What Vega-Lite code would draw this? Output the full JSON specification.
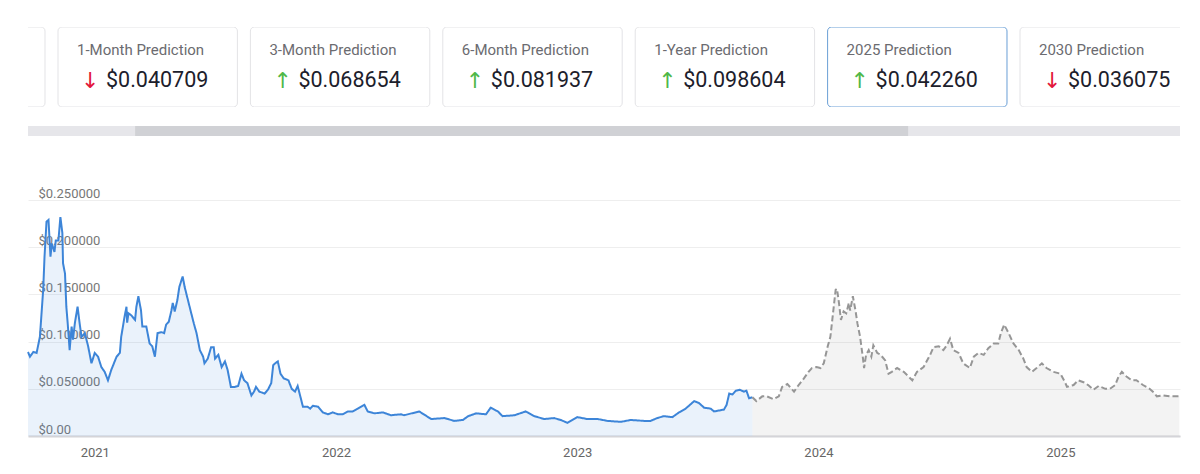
{
  "$schema": "https://vega.github.io/schema/vega-lite/v6.json",
  "background": "white",
  "padding": {"top": 27, "left": 24, "right": 20, "bottom": 0},
  "spacing": 19,
  "bounds": "flush",
  "resolve": {"scale": {"color": "independent", "x": "independent", "y": "independent"}},
  "config": {"view": {"stroke": null}, "font": "Roboto"},
  "vconcat": [
    {
      "width": 1152,
      "height": 80,
      "data": {
        "values": [
          {"card": "c0", "title": "", "value": "", "arrow": "", "dir": "up", "active": false},
          {"card": "c1", "title": "1-Month Prediction", "value": "$0.040709", "arrow": "↓", "dir": "down", "active": false},
          {"card": "c2", "title": "3-Month Prediction", "value": "$0.068654", "arrow": "↑", "dir": "up", "active": false},
          {"card": "c3", "title": "6-Month Prediction", "value": "$0.081937", "arrow": "↑", "dir": "up", "active": false},
          {"card": "c4", "title": "1-Year Prediction", "value": "$0.098604", "arrow": "↑", "dir": "up", "active": false},
          {"card": "c5", "title": "2025 Prediction", "value": "$0.042260", "arrow": "↑", "dir": "up", "active": true},
          {"card": "c6", "title": "2030 Prediction", "value": "$0.036075", "arrow": "↓", "dir": "down", "active": false}
        ]
      },
      "layer": [
        {
          "mark": {"type": "rect", "clip": true, "fill": "white", "cornerRadius": 4, "strokeWidth": 1},
          "encoding": {
            "x": {"field": "card", "type": "nominal", "sort": null, "axis": null,
                  "scale": {"range": [-162.4, 1171.4], "paddingInner": 0.0676, "paddingOuter": 0}},
            "stroke": {"condition": {"test": "datum.active", "value": "#6a9fd6"}, "value": "#e3e3e6"}
          }
        },
        {
          "mark": {"type": "text", "clip": true, "align": "left", "dx": 19, "dy": -17, "fontSize": 15, "color": "#6b6b70"},
          "encoding": {
            "x": {"field": "card", "type": "nominal", "sort": null, "axis": null, "bandPosition": 0},
            "text": {"field": "title"}
          }
        },
        {
          "mark": {"type": "text", "clip": true, "align": "left", "dx": 23, "dy": 14, "fontSize": 22, "font": "DejaVu Sans"},
          "encoding": {
            "x": {"field": "card", "type": "nominal", "sort": null, "axis": null, "bandPosition": 0},
            "text": {"field": "arrow"},
            "color": {"field": "dir", "type": "nominal", "legend": null,
                      "scale": {"domain": ["down", "up"], "range": ["#e3173c", "#4fb848"]}}
          }
        },
        {
          "mark": {"type": "text", "clip": true, "align": "left", "dx": 48, "dy": 14, "fontSize": 21.5, "color": "#1c202b"},
          "encoding": {
            "x": {"field": "card", "type": "nominal", "sort": null, "axis": null, "bandPosition": 0},
            "text": {"field": "value"}
          }
        }
      ]
    },
    {
      "width": 1152,
      "height": 10,
      "data": {
        "values": [
          {"part": "track", "from": 0, "to": 1},
          {"part": "thumb", "from": 0.093, "to": 0.764}
        ]
      },
      "mark": {"type": "rect"},
      "encoding": {
        "x": {"field": "from", "type": "quantitative", "axis": null,
              "scale": {"domain": [0, 1]}},
        "x2": {"field": "to"},
        "color": {"field": "part", "type": "nominal", "legend": null,
                  "scale": {"domain": ["track", "thumb"], "range": ["#e6e6ea", "#d0d1d5"]}}
      }
    },
    {
      "width": 1152,
      "height": 281,
      "data": {
        "values": [
          {"date": "2020-09-22", "price": 0.089, "series": "history"},
          {"date": "2020-09-25", "price": 0.084, "series": "history"},
          {"date": "2020-09-30", "price": 0.089, "series": "history"},
          {"date": "2020-10-05", "price": 0.088, "series": "history"},
          {"date": "2020-10-10", "price": 0.105, "series": "history"},
          {"date": "2020-10-15", "price": 0.155, "series": "history"},
          {"date": "2020-10-17", "price": 0.19, "series": "history"},
          {"date": "2020-10-20", "price": 0.227, "series": "history"},
          {"date": "2020-10-23", "price": 0.229, "series": "history"},
          {"date": "2020-10-26", "price": 0.19, "series": "history"},
          {"date": "2020-10-28", "price": 0.204, "series": "history"},
          {"date": "2020-11-01", "price": 0.195, "series": "history"},
          {"date": "2020-11-03", "price": 0.207, "series": "history"},
          {"date": "2020-11-07", "price": 0.207, "series": "history"},
          {"date": "2020-11-10", "price": 0.232, "series": "history"},
          {"date": "2020-11-13", "price": 0.215, "series": "history"},
          {"date": "2020-11-14", "price": 0.183, "series": "history"},
          {"date": "2020-11-17", "price": 0.172, "series": "history"},
          {"date": "2020-11-19", "price": 0.137, "series": "history"},
          {"date": "2020-11-21", "price": 0.12, "series": "history"},
          {"date": "2020-11-24", "price": 0.091, "series": "history"},
          {"date": "2020-11-27", "price": 0.116, "series": "history"},
          {"date": "2020-11-29", "price": 0.102, "series": "history"},
          {"date": "2020-12-02", "price": 0.12, "series": "history"},
          {"date": "2020-12-06", "price": 0.137, "series": "history"},
          {"date": "2020-12-09", "price": 0.12, "series": "history"},
          {"date": "2020-12-12", "price": 0.105, "series": "history"},
          {"date": "2020-12-17", "price": 0.109, "series": "history"},
          {"date": "2020-12-22", "price": 0.095, "series": "history"},
          {"date": "2020-12-27", "price": 0.077, "series": "history"},
          {"date": "2021-01-01", "price": 0.088, "series": "history"},
          {"date": "2021-01-06", "price": 0.084, "series": "history"},
          {"date": "2021-01-11", "price": 0.073, "series": "history"},
          {"date": "2021-01-16", "price": 0.068, "series": "history"},
          {"date": "2021-01-21", "price": 0.059, "series": "history"},
          {"date": "2021-01-26", "price": 0.07, "series": "history"},
          {"date": "2021-02-03", "price": 0.084, "series": "history"},
          {"date": "2021-02-08", "price": 0.088, "series": "history"},
          {"date": "2021-02-10", "price": 0.105, "series": "history"},
          {"date": "2021-02-15", "price": 0.126, "series": "history"},
          {"date": "2021-02-18", "price": 0.137, "series": "history"},
          {"date": "2021-02-19", "price": 0.12, "series": "history"},
          {"date": "2021-02-21", "price": 0.13, "series": "history"},
          {"date": "2021-02-25", "price": 0.128, "series": "history"},
          {"date": "2021-03-03", "price": 0.123, "series": "history"},
          {"date": "2021-03-05", "price": 0.137, "series": "history"},
          {"date": "2021-03-08", "price": 0.148, "series": "history"},
          {"date": "2021-03-12", "price": 0.133, "series": "history"},
          {"date": "2021-03-14", "price": 0.116, "series": "history"},
          {"date": "2021-03-20", "price": 0.116, "series": "history"},
          {"date": "2021-03-25", "price": 0.098, "series": "history"},
          {"date": "2021-03-29", "price": 0.095, "series": "history"},
          {"date": "2021-04-02", "price": 0.084, "series": "history"},
          {"date": "2021-04-06", "price": 0.109, "series": "history"},
          {"date": "2021-04-12", "price": 0.11, "series": "history"},
          {"date": "2021-04-16", "price": 0.109, "series": "history"},
          {"date": "2021-04-19", "price": 0.118, "series": "history"},
          {"date": "2021-04-23", "price": 0.121, "series": "history"},
          {"date": "2021-04-27", "price": 0.133, "series": "history"},
          {"date": "2021-04-29", "price": 0.141, "series": "history"},
          {"date": "2021-05-02", "price": 0.132, "series": "history"},
          {"date": "2021-05-06", "price": 0.144, "series": "history"},
          {"date": "2021-05-09", "price": 0.158, "series": "history"},
          {"date": "2021-05-14", "price": 0.169, "series": "history"},
          {"date": "2021-05-17", "price": 0.158, "series": "history"},
          {"date": "2021-05-22", "price": 0.144, "series": "history"},
          {"date": "2021-05-27", "price": 0.13, "series": "history"},
          {"date": "2021-05-31", "price": 0.119, "series": "history"},
          {"date": "2021-06-04", "price": 0.109, "series": "history"},
          {"date": "2021-06-09", "price": 0.091, "series": "history"},
          {"date": "2021-06-14", "price": 0.084, "series": "history"},
          {"date": "2021-06-16", "price": 0.077, "series": "history"},
          {"date": "2021-06-21", "price": 0.082, "series": "history"},
          {"date": "2021-06-26", "price": 0.094, "series": "history"},
          {"date": "2021-06-30", "price": 0.094, "series": "history"},
          {"date": "2021-07-02", "price": 0.082, "series": "history"},
          {"date": "2021-07-07", "price": 0.086, "series": "history"},
          {"date": "2021-07-12", "price": 0.073, "series": "history"},
          {"date": "2021-07-17", "price": 0.079, "series": "history"},
          {"date": "2021-07-21", "price": 0.07, "series": "history"},
          {"date": "2021-07-26", "price": 0.052, "series": "history"},
          {"date": "2021-08-01", "price": 0.052, "series": "history"},
          {"date": "2021-08-06", "price": 0.053, "series": "history"},
          {"date": "2021-08-11", "price": 0.066, "series": "history"},
          {"date": "2021-08-15", "price": 0.059, "series": "history"},
          {"date": "2021-08-20", "price": 0.056, "series": "history"},
          {"date": "2021-08-26", "price": 0.043, "series": "history"},
          {"date": "2021-08-30", "price": 0.047, "series": "history"},
          {"date": "2021-09-02", "price": 0.052, "series": "history"},
          {"date": "2021-09-07", "price": 0.047, "series": "history"},
          {"date": "2021-09-15", "price": 0.045, "series": "history"},
          {"date": "2021-09-20", "price": 0.049, "series": "history"},
          {"date": "2021-09-25", "price": 0.056, "series": "history"},
          {"date": "2021-09-28", "price": 0.075, "series": "history"},
          {"date": "2021-10-01", "price": 0.077, "series": "history"},
          {"date": "2021-10-05", "price": 0.079, "series": "history"},
          {"date": "2021-10-09", "price": 0.066, "series": "history"},
          {"date": "2021-10-14", "price": 0.061, "series": "history"},
          {"date": "2021-10-21", "price": 0.059, "series": "history"},
          {"date": "2021-10-26", "price": 0.05, "series": "history"},
          {"date": "2021-10-31", "price": 0.047, "series": "history"},
          {"date": "2021-11-04", "price": 0.053, "series": "history"},
          {"date": "2021-11-08", "price": 0.042, "series": "history"},
          {"date": "2021-11-12", "price": 0.031, "series": "history"},
          {"date": "2021-11-19", "price": 0.031, "series": "history"},
          {"date": "2021-11-23", "price": 0.029, "series": "history"},
          {"date": "2021-11-27", "price": 0.032, "series": "history"},
          {"date": "2021-12-05", "price": 0.031, "series": "history"},
          {"date": "2021-12-12", "price": 0.025, "series": "history"},
          {"date": "2021-12-20", "price": 0.023, "series": "history"},
          {"date": "2021-12-27", "price": 0.025, "series": "history"},
          {"date": "2022-01-04", "price": 0.023, "series": "history"},
          {"date": "2022-01-11", "price": 0.023, "series": "history"},
          {"date": "2022-01-19", "price": 0.026, "series": "history"},
          {"date": "2022-01-26", "price": 0.026, "series": "history"},
          {"date": "2022-02-03", "price": 0.029, "series": "history"},
          {"date": "2022-02-13", "price": 0.033, "series": "history"},
          {"date": "2022-02-18", "price": 0.026, "series": "history"},
          {"date": "2022-02-28", "price": 0.024, "series": "history"},
          {"date": "2022-03-13", "price": 0.025, "series": "history"},
          {"date": "2022-03-25", "price": 0.022, "series": "history"},
          {"date": "2022-04-09", "price": 0.023, "series": "history"},
          {"date": "2022-04-14", "price": 0.022, "series": "history"},
          {"date": "2022-05-07", "price": 0.026, "series": "history"},
          {"date": "2022-05-25", "price": 0.018, "series": "history"},
          {"date": "2022-06-14", "price": 0.019, "series": "history"},
          {"date": "2022-06-29", "price": 0.016, "series": "history"},
          {"date": "2022-07-12", "price": 0.017, "series": "history"},
          {"date": "2022-07-20", "price": 0.021, "series": "history"},
          {"date": "2022-08-01", "price": 0.024, "series": "history"},
          {"date": "2022-08-16", "price": 0.023, "series": "history"},
          {"date": "2022-08-23", "price": 0.03, "series": "history"},
          {"date": "2022-09-03", "price": 0.026, "series": "history"},
          {"date": "2022-09-10", "price": 0.021, "series": "history"},
          {"date": "2022-09-28", "price": 0.022, "series": "history"},
          {"date": "2022-10-15", "price": 0.026, "series": "history"},
          {"date": "2022-10-28", "price": 0.021, "series": "history"},
          {"date": "2022-11-12", "price": 0.018, "series": "history"},
          {"date": "2022-11-27", "price": 0.019, "series": "history"},
          {"date": "2022-12-07", "price": 0.017, "series": "history"},
          {"date": "2022-12-17", "price": 0.014, "series": "history"},
          {"date": "2023-01-01", "price": 0.02, "series": "history"},
          {"date": "2023-01-16", "price": 0.018, "series": "history"},
          {"date": "2023-02-01", "price": 0.018, "series": "history"},
          {"date": "2023-02-16", "price": 0.016, "series": "history"},
          {"date": "2023-03-08", "price": 0.015, "series": "history"},
          {"date": "2023-03-23", "price": 0.017, "series": "history"},
          {"date": "2023-04-12", "price": 0.016, "series": "history"},
          {"date": "2023-04-22", "price": 0.016, "series": "history"},
          {"date": "2023-05-02", "price": 0.019, "series": "history"},
          {"date": "2023-05-12", "price": 0.021, "series": "history"},
          {"date": "2023-05-25", "price": 0.02, "series": "history"},
          {"date": "2023-06-04", "price": 0.025, "series": "history"},
          {"date": "2023-06-14", "price": 0.029, "series": "history"},
          {"date": "2023-06-27", "price": 0.037, "series": "history"},
          {"date": "2023-07-04", "price": 0.035, "series": "history"},
          {"date": "2023-07-12", "price": 0.03, "series": "history"},
          {"date": "2023-07-22", "price": 0.029, "series": "history"},
          {"date": "2023-07-27", "price": 0.026, "series": "history"},
          {"date": "2023-08-11", "price": 0.028, "series": "history"},
          {"date": "2023-08-15", "price": 0.033, "series": "history"},
          {"date": "2023-08-19", "price": 0.045, "series": "history"},
          {"date": "2023-08-24", "price": 0.044, "series": "history"},
          {"date": "2023-08-29", "price": 0.048, "series": "history"},
          {"date": "2023-09-04", "price": 0.049, "series": "history"},
          {"date": "2023-09-10", "price": 0.047, "series": "history"},
          {"date": "2023-09-14", "price": 0.048, "series": "history"},
          {"date": "2023-09-18", "price": 0.04, "series": "history"},
          {"date": "2023-09-23", "price": 0.041, "series": "history"},
          {"date": "2023-09-23", "price": 0.041, "series": "forecast"},
          {"date": "2023-09-29", "price": 0.037, "series": "forecast"},
          {"date": "2023-10-08", "price": 0.042, "series": "forecast"},
          {"date": "2023-10-15", "price": 0.042, "series": "forecast"},
          {"date": "2023-10-25", "price": 0.039, "series": "forecast"},
          {"date": "2023-11-02", "price": 0.042, "series": "forecast"},
          {"date": "2023-11-07", "price": 0.052, "series": "forecast"},
          {"date": "2023-11-15", "price": 0.055, "series": "forecast"},
          {"date": "2023-11-25", "price": 0.047, "series": "forecast"},
          {"date": "2023-12-02", "price": 0.054, "series": "forecast"},
          {"date": "2023-12-10", "price": 0.061, "series": "forecast"},
          {"date": "2023-12-17", "price": 0.068, "series": "forecast"},
          {"date": "2023-12-22", "price": 0.072, "series": "forecast"},
          {"date": "2023-12-29", "price": 0.073, "series": "forecast"},
          {"date": "2024-01-04", "price": 0.072, "series": "forecast"},
          {"date": "2024-01-09", "price": 0.077, "series": "forecast"},
          {"date": "2024-01-15", "price": 0.095, "series": "forecast"},
          {"date": "2024-01-19", "price": 0.105, "series": "forecast"},
          {"date": "2024-01-23", "price": 0.13, "series": "forecast"},
          {"date": "2024-01-27", "price": 0.155, "series": "forecast"},
          {"date": "2024-01-29", "price": 0.156, "series": "forecast"},
          {"date": "2024-02-01", "price": 0.141, "series": "forecast"},
          {"date": "2024-02-04", "price": 0.123, "series": "forecast"},
          {"date": "2024-02-08", "price": 0.132, "series": "forecast"},
          {"date": "2024-02-12", "price": 0.13, "series": "forecast"},
          {"date": "2024-02-16", "price": 0.141, "series": "forecast"},
          {"date": "2024-02-18", "price": 0.133, "series": "forecast"},
          {"date": "2024-02-22", "price": 0.148, "series": "forecast"},
          {"date": "2024-02-26", "price": 0.133, "series": "forecast"},
          {"date": "2024-02-29", "price": 0.119, "series": "forecast"},
          {"date": "2024-03-04", "price": 0.105, "series": "forecast"},
          {"date": "2024-03-08", "price": 0.084, "series": "forecast"},
          {"date": "2024-03-10", "price": 0.072, "series": "forecast"},
          {"date": "2024-03-13", "price": 0.086, "series": "forecast"},
          {"date": "2024-03-17", "price": 0.091, "series": "forecast"},
          {"date": "2024-03-21", "price": 0.084, "series": "forecast"},
          {"date": "2024-03-24", "price": 0.096, "series": "forecast"},
          {"date": "2024-03-30", "price": 0.088, "series": "forecast"},
          {"date": "2024-04-04", "price": 0.086, "series": "forecast"},
          {"date": "2024-04-11", "price": 0.08, "series": "forecast"},
          {"date": "2024-04-16", "price": 0.066, "series": "forecast"},
          {"date": "2024-04-21", "price": 0.068, "series": "forecast"},
          {"date": "2024-04-29", "price": 0.072, "series": "forecast"},
          {"date": "2024-05-09", "price": 0.068, "series": "forecast"},
          {"date": "2024-05-22", "price": 0.059, "series": "forecast"},
          {"date": "2024-05-29", "price": 0.068, "series": "forecast"},
          {"date": "2024-06-08", "price": 0.073, "series": "forecast"},
          {"date": "2024-06-18", "price": 0.086, "series": "forecast"},
          {"date": "2024-06-23", "price": 0.094, "series": "forecast"},
          {"date": "2024-07-01", "price": 0.095, "series": "forecast"},
          {"date": "2024-07-08", "price": 0.091, "series": "forecast"},
          {"date": "2024-07-13", "price": 0.096, "series": "forecast"},
          {"date": "2024-07-18", "price": 0.103, "series": "forecast"},
          {"date": "2024-07-23", "price": 0.091, "series": "forecast"},
          {"date": "2024-07-31", "price": 0.088, "series": "forecast"},
          {"date": "2024-08-07", "price": 0.077, "series": "forecast"},
          {"date": "2024-08-17", "price": 0.072, "series": "forecast"},
          {"date": "2024-08-23", "price": 0.084, "series": "forecast"},
          {"date": "2024-08-30", "price": 0.088, "series": "forecast"},
          {"date": "2024-09-07", "price": 0.086, "series": "forecast"},
          {"date": "2024-09-14", "price": 0.093, "series": "forecast"},
          {"date": "2024-09-22", "price": 0.098, "series": "forecast"},
          {"date": "2024-09-29", "price": 0.098, "series": "forecast"},
          {"date": "2024-10-03", "price": 0.109, "series": "forecast"},
          {"date": "2024-10-08", "price": 0.118, "series": "forecast"},
          {"date": "2024-10-14", "price": 0.11, "series": "forecast"},
          {"date": "2024-10-22", "price": 0.098, "series": "forecast"},
          {"date": "2024-10-30", "price": 0.091, "series": "forecast"},
          {"date": "2024-11-06", "price": 0.082, "series": "forecast"},
          {"date": "2024-11-11", "price": 0.073, "series": "forecast"},
          {"date": "2024-11-19", "price": 0.068, "series": "forecast"},
          {"date": "2024-11-26", "price": 0.072, "series": "forecast"},
          {"date": "2024-12-04", "price": 0.077, "series": "forecast"},
          {"date": "2024-12-11", "price": 0.072, "series": "forecast"},
          {"date": "2024-12-21", "price": 0.068, "series": "forecast"},
          {"date": "2025-01-01", "price": 0.066, "series": "forecast"},
          {"date": "2025-01-08", "price": 0.057, "series": "forecast"},
          {"date": "2025-01-11", "price": 0.052, "series": "forecast"},
          {"date": "2025-01-21", "price": 0.054, "series": "forecast"},
          {"date": "2025-01-28", "price": 0.059, "series": "forecast"},
          {"date": "2025-02-05", "price": 0.057, "series": "forecast"},
          {"date": "2025-02-12", "price": 0.054, "series": "forecast"},
          {"date": "2025-02-20", "price": 0.049, "series": "forecast"},
          {"date": "2025-02-28", "price": 0.053, "series": "forecast"},
          {"date": "2025-03-10", "price": 0.05, "series": "forecast"},
          {"date": "2025-03-17", "price": 0.05, "series": "forecast"},
          {"date": "2025-03-25", "price": 0.054, "series": "forecast"},
          {"date": "2025-03-30", "price": 0.063, "series": "forecast"},
          {"date": "2025-04-04", "price": 0.068, "series": "forecast"},
          {"date": "2025-04-11", "price": 0.063, "series": "forecast"},
          {"date": "2025-04-19", "price": 0.059, "series": "forecast"},
          {"date": "2025-04-26", "price": 0.059, "series": "forecast"},
          {"date": "2025-05-06", "price": 0.054, "series": "forecast"},
          {"date": "2025-05-16", "price": 0.05, "series": "forecast"},
          {"date": "2025-05-21", "price": 0.047, "series": "forecast"},
          {"date": "2025-05-27", "price": 0.042, "series": "forecast"},
          {"date": "2025-06-06", "price": 0.043, "series": "forecast"},
          {"date": "2025-06-16", "price": 0.042, "series": "forecast"},
          {"date": "2025-06-26", "price": 0.042, "series": "forecast"},
          {"date": "2025-06-30", "price": 0.042, "series": "forecast"}
        ]
      },
      "encoding": {
        "x": {
          "field": "date",
          "type": "temporal",
          "scale": {
            "type": "utc",
            "domain": [
              {"year": 2020, "month": 9, "date": 22, "utc": true},
              {"year": 2025, "month": 7, "date": 1, "utc": true}
            ]
          },
          "axis": {
            "title": null,
            "format": "%Y",
            "tickCount": {"interval": "year", "step": 1},
            "ticks": false,
            "grid": false,
            "domainColor": "#d4d4d8",
            "domainWidth": 2,
            "labelColor": "#666666",
            "labelFontSize": 13,
            "labelPadding": 10
          }
        },
        "y": {
          "field": "price",
          "type": "quantitative",
          "stack": null,
          "scale": {"domain": [0, 0.2977], "nice": false},
          "axis": {
            "title": null,
            "values": [0, 0.05, 0.1, 0.15, 0.2, 0.25],
            "labelExpr": "datum.value == 0 ? '$0.00' : '$' + format(datum.value, '.6f')",
            "offset": -10,
            "domain": false,
            "ticks": false,
            "tickSize": 0,
            "labelPadding": 0,
            "labelAlign": "left",
            "labelBaseline": "bottom",
            "labelDy": -3,
            "labelColor": "#777777",
            "labelFontSize": 13,
            "gridColor": "#eeeeee",
            "gridWidth": 1
          }
        },
        "color": {
          "field": "series",
          "type": "nominal",
          "legend": null,
          "scale": {"domain": ["history", "forecast"], "range": ["#3d85d8", "#969696"]}
        }
      },
      "layer": [
        {"mark": {"type": "area", "fillOpacity": 0.11}},
        {
          "mark": {"type": "line", "strokeWidth": 2},
          "encoding": {
            "strokeDash": {
              "field": "series",
              "type": "nominal",
              "legend": null,
              "scale": {"domain": ["history", "forecast"], "range": [[1, 0], [6, 3]]}
            }
          }
        }
      ]
    }
  ]
}
